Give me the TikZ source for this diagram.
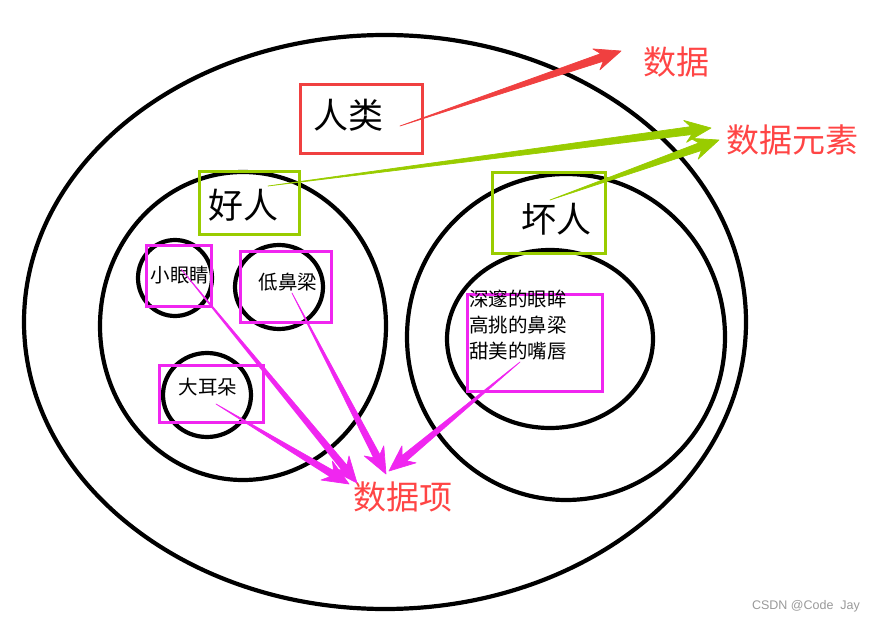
\documentclass[tikz,border=0pt]{standalone}
\usepackage{fontspec}
\setmainfont{Noto Sans CJK SC}
\newfontfamily\wmfont{Liberation Sans}
\usetikzlibrary{calc}
\definecolor{hum}{HTML}{F04040}
\definecolor{elm}{HTML}{99CC00}
\definecolor{itm}{HTML}{F026F0}
\definecolor{lbl}{HTML}{FF4545}
\tikzset{
  ring/.style={draw=black,line width=4.2pt},
  frame/.style={draw,line width=3pt,inner sep=0pt},
  hbox/.style={frame,draw=hum},
  ebox/.style={frame,draw=elm},
  ibox/.style={frame,draw=itm},
  big/.style={inner sep=0pt,font=\fontsize{35}{40}\selectfont},
  small/.style={inner sep=0pt,font=\fontsize{19.5}{26}\selectfont},
  tag/.style={inner sep=0pt,text=lbl,font=\fontsize{33}{38}\selectfont},
}
% tapered arrow: from, to, colour, shaft half width
\newcommand{\taper}[4]{%
  \coordinate (tb) at ($(#2)!26pt!(#1)$);
  \coordinate (tc) at ($(#2)!20pt!(#1)$);
  \filldraw[#3,line width=0.7pt,line join=round] (#1) -- ($(tc)!#4!90:(#2)$) -- ($(tb)!11pt!90:(#2)$)
    -- (#2) -- ($(tb)!11pt!-90:(#2)$) -- ($(tc)!#4!-90:(#2)$) -- cycle;
}

\begin{document}
\begin{tikzpicture}[x=1pt,y=-1pt]
\useasboundingbox (0,0) rectangle (881,623);

% sets
\draw[ring] (385,322) ellipse[x radius=361,y radius=287];
\draw[ring] (243,326) ellipse[x radius=143,y radius=154];
\draw[ring] (566,337) ellipse[x radius=159,y radius=163];
\draw[ring] (550,339) ellipse[x radius=103,y radius=89];
\draw[ring] (175,278) ellipse[x radius=37,y radius=38];
\draw[ring] (279,287) ellipse[x radius=44,y radius=42];
\draw[ring] (207,395) ellipse[x radius=44,y radius=42];

% boxes
\node[hbox,minimum width=122,minimum height=69] (human) at (361,119.5) {};
\node[ebox,minimum width=100,minimum height=62] (good) at (249,203) {};
\node[ebox,minimum width=113,minimum height=80] (bad) at (548.5,213) {};
\node[ibox,minimum width=65,minimum height=61] (eyes) at (178.5,275.5) {};
\node[ibox,minimum width=91,minimum height=71] (nose) at (285.5,286.5) {};
\node[ibox,minimum width=104,minimum height=57] (ears) at (211,393.5) {};
\node[ibox,minimum width=135,minimum height=97] (beauty) at (534.5,342.5) {};

% texts
\node[big] at (348,115) {人类};
\node[big] at (243,205) {好人};
\node[big] at (556,219) {坏人};
\node[small] at (180,275) {小眼睛};
\node[small] at (288,282) {低鼻梁};
\node[small] at (208,387) {大耳朵};
\node[small,anchor=north west,align=left] at (469,290) {深邃的眼眸\\高挑的鼻梁\\甜美的嘴唇};

\node[tag] (data) at (676,62) {数据};
\node[tag] (elem) at (792,140) {数据元素};
\node[tag] (item) at (403,497) {数据项};

\node[text=gray!80,font=\wmfont\fontsize{12.5}{14}\selectfont] (mark) at (806,606) {CSDN @Code\ \ Jay};

% arrow ends
\coordinate (h0) at (400,126);
\coordinate (h1) at (621,51);
\coordinate (g0) at (268,186);
\coordinate (g1) at (711,128);
\coordinate (b0) at (550,200);
\coordinate (b1) at (719,140);
\coordinate (e0) at (181,269);
\coordinate (e1) at (357,483);
\coordinate (n0) at (292,293);
\coordinate (n1) at (386,474);
\coordinate (r0) at (216,404);
\coordinate (r1) at (349,484);
\coordinate (m0) at (520,362);
\coordinate (m1) at (389,471);

\taper{h0}{h1}{hum}{4pt}
\taper{g0}{g1}{elm}{4pt}
\taper{b0}{b1}{elm}{4pt}
\taper{e0}{e1}{itm}{3.5pt}
\taper{n0}{n1}{itm}{3.5pt}
\taper{r0}{r1}{itm}{3.5pt}
\taper{m0}{m1}{itm}{3.5pt}
\end{tikzpicture}
\end{document}
